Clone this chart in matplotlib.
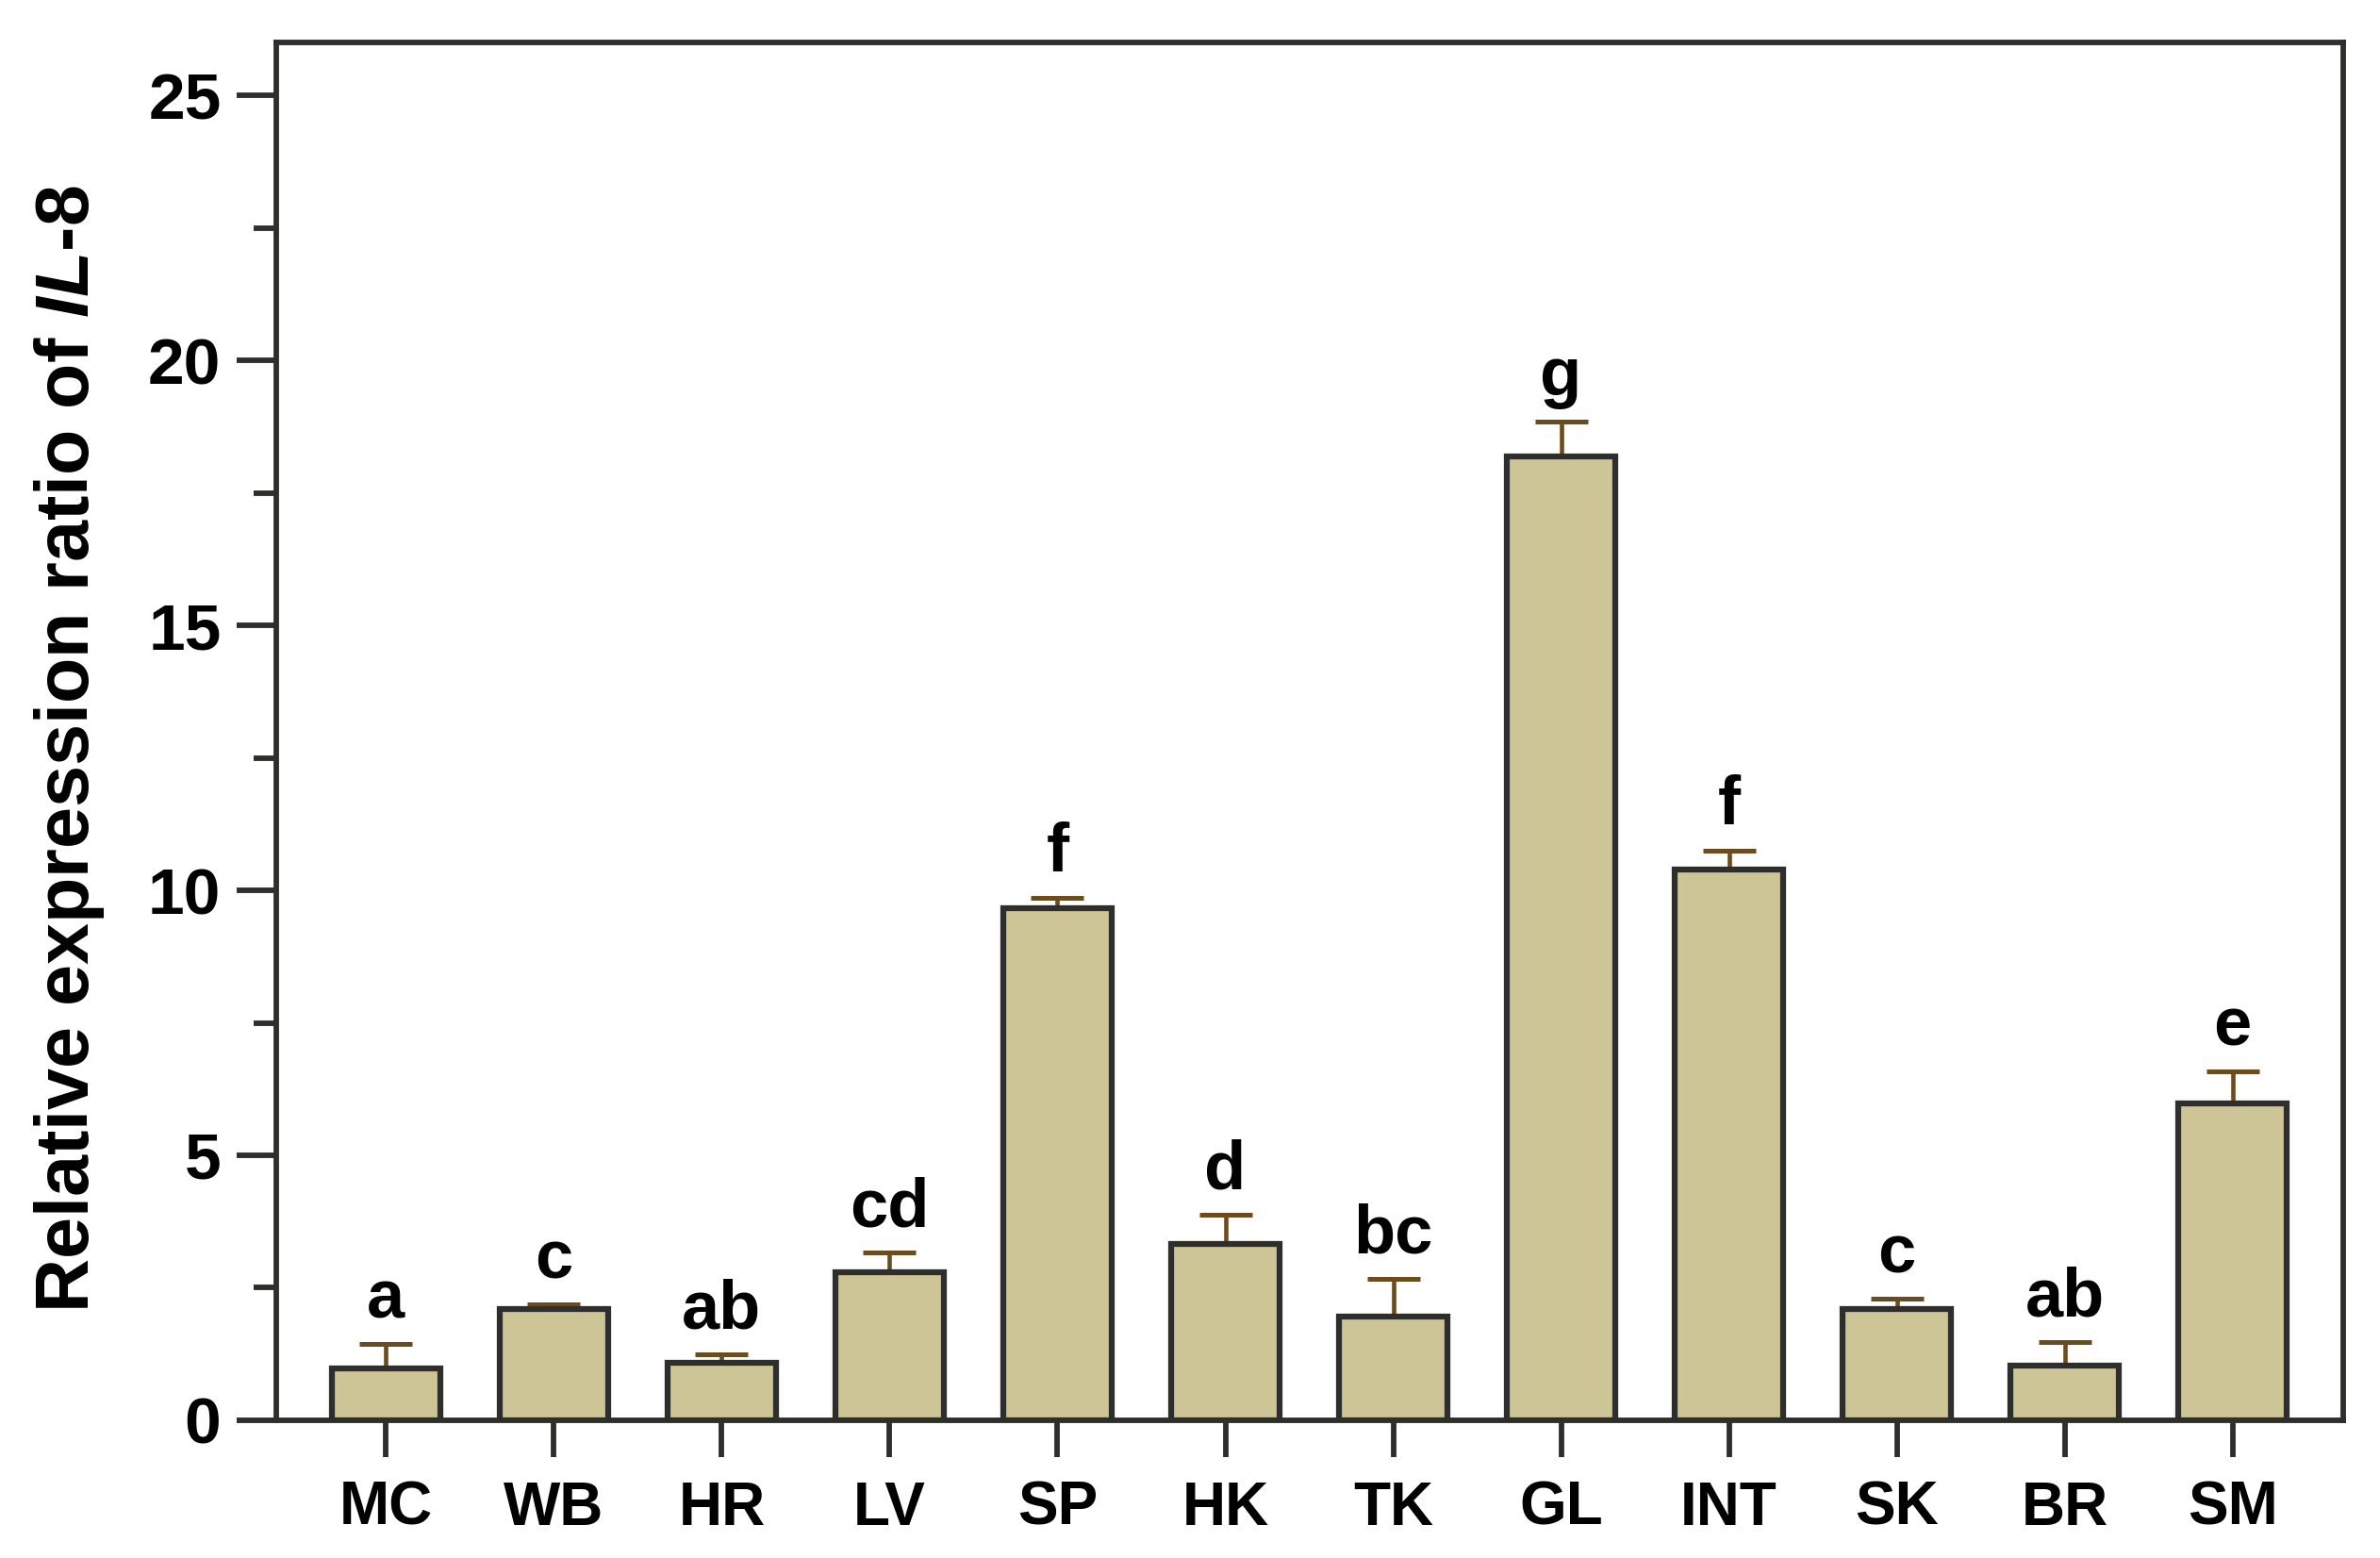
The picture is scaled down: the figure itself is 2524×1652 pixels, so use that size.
import numpy as np
import matplotlib.pyplot as plt
from matplotlib.ticker import MultipleLocator

plt.rcParams['font.family'] = ['Liberation Sans', 'DejaVu Sans']
plt.rcParams['font.weight'] = 'bold'
plt.rcParams['mathtext.fontset'] = 'custom'
plt.rcParams['mathtext.rm'] = 'Liberation Sans:bold'
plt.rcParams['mathtext.it'] = 'Liberation Sans:bold:italic'

# data
tissues = ['MC', 'WB', 'HR', 'LV', 'SP', 'HK', 'TK', 'GL', 'INT', 'SK', 'BR', 'SM']
means = [0.98, 2.10, 1.09, 2.79, 9.66, 3.33, 1.95, 18.19, 10.40, 2.10, 1.03, 5.98]
errs = [0.46, 0.08, 0.15, 0.37, 0.20, 0.55, 0.72, 0.66, 0.35, 0.20, 0.44, 0.60]
letters = ['a', 'c', 'ab', 'cd', 'f', 'd', 'bc', 'g', 'f', 'c', 'ab', 'e']

bar_col = '#CEC596'
edge_col = '#2E2E2C'
err_col = '#6B4C1E'

fig = plt.figure(figsize=(25.24, 16.52), dpi=100)
ax = fig.add_axes([0.116, 0.0884, 0.8686, 0.8844])

x = np.arange(len(tissues))
ax.errorbar(x, means, yerr=[np.zeros(len(errs)), errs], fmt='none',
            ecolor=err_col, elinewidth=3.3, capsize=20, capthick=3.6, zorder=1)
ax.bar(x, means, width=0.65, color=bar_col, edgecolor=edge_col,
       linewidth=4.5, zorder=2)

for xi, m, e, lab in zip(x, means, errs, letters):
    ax.annotate(lab, (xi, m + e), xytext=(0, 9), textcoords='offset points',
                ha='center', va='bottom', fontsize=52, fontweight='bold')

ax.set_xlim(-0.655, 11.66)
ax.set_ylim(0, 26)
ax.yaxis.set_major_locator(MultipleLocator(5))
ax.yaxis.set_minor_locator(MultipleLocator(2.5))
ax.set_xticks(x)
ax.set_xticklabels(tissues)

for s in ax.spines.values():
    s.set_linewidth(4.2)
    s.set_color(edge_col)

ax.tick_params(axis='y', which='major', length=30, width=4.2, color=edge_col,
               labelsize=50, pad=12)
ax.tick_params(axis='y', which='minor', length=17, width=4.2, color=edge_col)
ax.tick_params(axis='x', which='major', length=28, width=4.2, color=edge_col,
               labelsize=46, pad=18)

ax.set_ylabel('Relative expression ratio of $\\mathit{IL\u20108}$',
              fontsize=57, fontweight='bold')
ax.yaxis.set_label_coords(-0.082, 0.487)

fig.savefig('out.png', dpi=100)
